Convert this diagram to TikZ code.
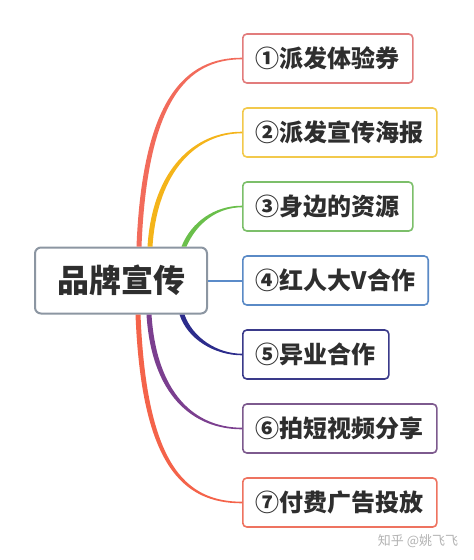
\documentclass[tikz,border=0pt]{standalone}
\usepackage{fontspec}
\newfontfamily\cjk{Noto Sans CJK SC}
\usetikzlibrary{positioning}

\definecolor{txt}{HTML}{2E2E2E}
\definecolor{rootline}{HTML}{8C96A2}
\definecolor{box1}{HTML}{E27C7C}
\definecolor{box2}{HTML}{F2C94C}
\definecolor{box3}{HTML}{7CBF6A}
\definecolor{box4}{HTML}{5A8AC6}
\definecolor{box5}{HTML}{3A3A8A}
\definecolor{box6}{HTML}{7D5A8E}
\definecolor{box7}{HTML}{EE7360}
\definecolor{line1}{HTML}{F26B5B}
\definecolor{line2}{HTML}{F4B41A}
\definecolor{line3}{HTML}{6ABF4B}
\definecolor{line4}{HTML}{5B8BC9}
\definecolor{line5}{HTML}{2C2C8C}
\definecolor{line6}{HTML}{7B3F8F}
\definecolor{line7}{HTML}{F4634A}

\begin{document}
\begin{tikzpicture}[x=1pt,y=-1pt]
\tikzstyle{root}=[rectangle, rounded corners=6pt, draw=rootline, line width=2pt, fill=white, minimum width=172pt, minimum height=66pt, font=\cjk\bfseries\fontsize{32}{36}\selectfont, text=txt]
\tikzstyle{topic}=[rectangle, rounded corners=4pt, line width=1.6pt, fill=white, minimum height=49pt, inner xsep=13pt, font=\cjk\bfseries\fontsize{24}{27}\selectfont, text=txt, node distance=23.4pt]

  \useasboundingbox (0,0) rectangle (474,560);

  \node[root] (brand) at (121,280.5) {品牌宣传};
  \node[topic, draw=box1, anchor=west] (t1) at (242,58.5) {①派发体验券};
  \node[topic, draw=box2] (t2) [below=of t1.south west, anchor=north west] {②派发宣传海报};
  \node[topic, draw=box3] (t3) [below=of t2.south west, anchor=north west] {③身边的资源};
  \node[topic, draw=box4] (t4) [below=of t3.south west, anchor=north west] {④红人大V合作};
  \node[topic, draw=box5] (t5) [below=of t4.south west, anchor=north west] {⑤异业合作};
  \node[topic, draw=box6] (t6) [below=of t5.south west, anchor=north west] {⑥拍短视频分享};
  \node[topic, draw=box7] (t7) [below=of t6.south west, anchor=north west] {⑦付费广告投放};

  % upper branches
  \fill[line1] ([xshift=102.5pt]brand.north west) .. controls +(6,-148) and +(-57,0) .. ([yshift=0.8pt]t1.west)
    -- ([yshift=-0.8pt]t1.west) .. controls +(-55,0) and +(6,-146) .. ([xshift=107.5pt]brand.north west) -- cycle;
  \fill[line2] ([xshift=113.5pt]brand.north west) .. controls +(5,-78) and +(-47,0) .. ([yshift=0.8pt]t2.west)
    -- ([yshift=-0.8pt]t2.west) .. controls +(-45,0) and +(5,-76) .. ([xshift=118.5pt]brand.north west) -- cycle;
  \fill[line3] ([xshift=147.5pt]brand.north west) .. controls +(10,-25) and +(-27,0) .. ([yshift=0.8pt]t3.west)
    -- ([yshift=-0.8pt]t3.west) .. controls +(-25,0) and +(10,-23) .. ([xshift=152.5pt]brand.north west) -- cycle;
  \draw[line4, line width=2pt] (brand.east) -- (t4.west);
  % lower branches
  \fill[line5] ([xshift=145.5pt]brand.south west) .. controls +(8,25) and +(-27,0) .. ([yshift=-0.8pt]t5.west)
    -- ([yshift=0.8pt]t5.west) .. controls +(-25,0) and +(8,23) .. ([xshift=150.5pt]brand.south west) -- cycle;
  \fill[line6] ([xshift=112.5pt]brand.south west) .. controls +(5,80) and +(-50,0) .. ([yshift=-0.8pt]t6.west)
    -- ([yshift=0.8pt]t6.west) .. controls +(-48,0) and +(5,78) .. ([xshift=117.5pt]brand.south west) -- cycle;
  \fill[line7] ([xshift=101.5pt]brand.south west) .. controls +(6,150) and +(-60,0) .. ([yshift=-0.8pt]t7.west)
    -- ([yshift=0.8pt]t7.west) .. controls +(-58,0) and +(6,148) .. ([xshift=106.5pt]brand.south west) -- cycle;

  \node[text=black!30, font=\cjk\fontsize{13}{15}\selectfont] (mark) at (418,541) {知乎 @姚飞飞};
\end{tikzpicture}
\end{document}
